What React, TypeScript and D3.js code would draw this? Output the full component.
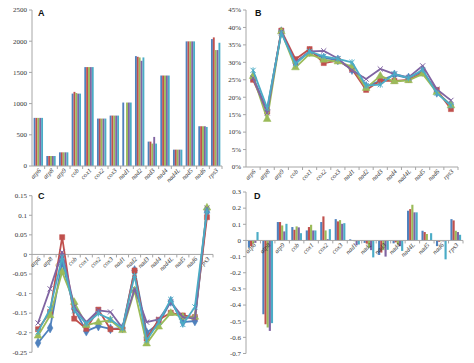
import React from 'react';
import * as d3 from 'd3';

const genes = ['atp6','atp8','atp9','cob','cox1','cox2','cox3','nad1','nad2','nad3','nad4','nad4L','nad5','nad6','rps3'];
const colors = ['#4F81BD','#C0504D','#9BBB59','#8064A2','#4BACC6'];

// Panel A (lengths)
const aBlue   = [771,160,219,1160,1585,760,808,1017,1761,391,1450,262,1997,637,2034];
const aRed    = [771,160,219,1188,1585,760,808,0,1750,391,1450,262,1997,637,2061];
const aGreen  = [771,160,219,1170,1585,760,808,1017,1740,359,1450,262,1997,637,1858];
const aPurple = [771,160,219,1160,1585,760,808,1017,1686,466,1450,262,1997,637,1858];
const aCyan   = [771,160,219,1160,1585,760,808,1017,1740,359,1450,262,1997,626,1975];
const aTicks = [0,500,1000,1500,2000,2500];

// Panel B (percent)
const bBlue   = [25.8,16.4,38.8,29.8,33.1,31.2,30.7,27.9,23.1,24.7,26.4,25.5,27.4,21.4,17.8];
const bRed    = [25.0,15.9,39.1,30.9,33.8,29.8,30.5,28.1,22.1,24.7,24.7,25.0,26.9,22.1,16.6];
const bGreen  = [26.0,13.7,38.8,28.5,32.4,30.7,30.2,28.8,22.6,26.1,24.5,24.8,26.7,21.4,17.6];
const bPurple = [25.5,15.5,38.8,30.0,33.1,33.3,31.1,27.7,25.2,28.1,26.6,25.7,29.0,22.3,19.1];
const bCyan   = [27.7,16.9,38.4,29.6,33.1,31.7,31.0,30.0,23.3,23.6,26.7,25.5,27.9,21.2,17.6];
const bTicks = [0,5,10,15,20,25,30,35,40,45];

// Panel C
const cBlue   = [-0.226,-0.188,-0.02,-0.139,-0.196,-0.183,-0.19,-0.188,-0.041,-0.2,-0.177,-0.12,-0.173,-0.17,0.108];
const cRed    = [-0.191,-0.147,0.044,-0.164,-0.19,-0.141,-0.191,-0.191,-0.041,-0.215,-0.167,-0.149,-0.156,-0.16,0.095];
const cGreen  = [-0.208,-0.156,-0.045,-0.122,-0.181,-0.173,-0.168,-0.194,-0.092,-0.228,-0.185,-0.15,-0.16,-0.16,0.119];
const cPurple = [-0.175,-0.088,0.006,-0.134,-0.173,-0.143,-0.147,-0.188,-0.088,-0.173,-0.166,-0.122,-0.16,-0.164,0.118];
const cCyan   = [-0.198,-0.139,-0.007,-0.143,-0.177,-0.151,-0.166,-0.188,-0.054,-0.219,-0.173,-0.115,-0.179,-0.134,0.112];
const cTicks = [-0.25,-0.2,-0.15,-0.1,-0.05,0,0.05,0.1,0.15];

// Panel D
const dBlue   = [-0.045,-0.457,0.114,0.083,0.062,0.114,0.132,0.007,-0.015,-0.09,-0.018,0.184,0.06,-0.035,0.132];
const dRed    = [-0.035,-0.519,0.114,0.066,0.083,0.149,0.118,0,-0.02,-0.075,-0.012,0.194,0.052,-0.008,0.124];
const dGreen  = [-0.02,-0.539,0.093,0.087,0.097,0.062,0.126,-0.005,-0.045,-0.06,-0.025,0.221,0.04,-0.005,0.06];
const dPurple = [-0.015,-0.56,0.056,0.081,0.062,0.008,0.103,-0.03,-0.06,-0.1,-0.035,0.174,0.003,-0.006,0.052];
const dCyan   = [0.052,-0.512,0.103,0.045,0.062,0.07,0.107,-0.025,-0.105,-0.058,-0.065,0.174,0.045,-0.117,0.035];
const dTicks = [-0.7,-0.6,-0.5,-0.4,-0.3,-0.2,-0.1,0,0.1,0.2,0.3];

const axisColor = '#a6a6a6';
const tickFont = 'Liberation Serif, Times New Roman, serif';

const symTimes = {
  draw(ctx: any, size: number) {
    const r = Math.sqrt(size) / 2;
    ctx.moveTo(-r, -r); ctx.lineTo(r, r);
    ctx.moveTo(r, -r); ctx.lineTo(-r, r);
  }
};
const symStar = {
  draw(ctx: any, size: number) {
    const r = Math.sqrt(size) / 2;
    ctx.moveTo(-r, -r); ctx.lineTo(r, r);
    ctx.moveTo(r, -r); ctx.lineTo(-r, r);
    ctx.moveTo(0, -r * 1.2); ctx.lineTo(0, r * 1.2);
  }
};
const markerTypes: any[] = [d3.symbolDiamond, d3.symbolSquare, d3.symbolTriangle, symTimes, symStar];
const markerSizes = [28, 26, 26, 26, 26];
const markerFilled = [true, true, true, false, false];

type PanelProps = {
  x0: number; x1: number; yTop: number; yBot: number;
  domain: [number, number]; ticks: number[]; fmt: (v: number) => string;
  series: number[][]; label: string; labelPos: [number, number];
  kind: 'bar' | 'line'; baseline: number;
};

function Panel(p: PanelProps) {
  const x = d3.scaleBand<string>().domain(genes).range([p.x0, p.x1]).paddingInner(0.26).paddingOuter(0.13);
  const xc = (g: string) => (x(g) as number) + x.bandwidth() / 2;
  const y = d3.scaleLinear().domain(p.domain).range([p.yBot, p.yTop]);
  const axisY = y(p.baseline);
  const inner = d3.scaleBand<number>().domain(d3.range(p.series.length)).range([0, x.bandwidth()]);
  const line = d3.line<number>().x((_, i) => xc(genes[i])).y(v => y(v));
  const step = x.step();
  return (
    <g>
      {p.kind === 'bar' && p.series.map((s, si) => (
        <g key={si}>
          {s.map((v, i) => v === 0 ? null : (
            <rect key={i} x={(x(genes[i]) as number) + (inner(si) as number)} width={inner.bandwidth()}
              y={Math.min(y(v), axisY)} height={Math.abs(y(v) - axisY)} fill={colors[si]} />
          ))}
        </g>
      ))}
      {/* y axis */}
      <line x1={p.x0} x2={p.x0} y1={p.yTop} y2={p.yBot} stroke={axisColor} strokeWidth={1} />
      {p.ticks.map((t, i) => (
        <g key={i}>
          <line x1={p.x0 - 3} x2={p.x0} y1={y(t)} y2={y(t)} stroke={axisColor} />
          <text x={p.x0 - 5} y={y(t)} dy="0.33em" textAnchor="end" fontSize={7} fontFamily={tickFont} fill="#333">{p.fmt(t)}</text>
        </g>
      ))}
      {/* x axis */}
      <line x1={p.x0} x2={p.x1} y1={axisY} y2={axisY} stroke={axisColor} strokeWidth={1} />
      {genes.map((g, i) => (
        <line key={'t' + i} x1={p.x0 + step * (i + 1)} x2={p.x0 + step * (i + 1)} y1={axisY} y2={axisY + 3} stroke={axisColor} />
      ))}
      {genes.map((g, i) => (
        <text key={'l' + i} transform={`translate(${xc(g) + 3},${axisY + 5}) rotate(-45)`} textAnchor="end"
          fontSize={6.5} fontStyle="italic" fontFamily={tickFont} fill="#333">{g}</text>
      ))}
      {p.kind === 'line' && p.series.map((s, si) => (
        <g key={si}>
          <path d={line(s) || ''} fill="none" stroke={colors[si]} strokeWidth={1.8} strokeLinejoin="round" />
          {s.map((v, i) => (
            <path key={i} transform={`translate(${xc(genes[i])},${y(v)})`}
              d={d3.symbol().type(markerTypes[si]).size(markerSizes[si])() || ''}
              fill={markerFilled[si] ? colors[si] : 'none'} stroke={colors[si]} strokeWidth={markerFilled[si] ? 0.5 : 1} />
          ))}
        </g>
      ))}
      <text x={p.labelPos[0]} y={p.labelPos[1]} fontSize={9} fontWeight="bold" fontFamily="Liberation Sans, Arial, sans-serif" fill="#111">{p.label}</text>
    </g>
  );
}

export default function App() {
  return (
    <svg width={474} height={363} style={{ position: 'absolute', left: 0, top: 0, background: '#fff' }}>
      <rect width={474} height={363} fill="#fff" />
      <Panel x0={32} x1={222} yTop={10} yBot={166} domain={[0, 2500]} ticks={aTicks} fmt={v => String(v)}
        series={[aBlue, aRed, aGreen, aPurple, aCyan]} label="A" labelPos={[38, 16]} kind="bar" baseline={0} />
      <Panel x0={246} x1={458} yTop={10} yBot={167} domain={[0, 45]} ticks={bTicks} fmt={v => v + '%'}
        series={[bBlue, bRed, bGreen, bPurple, bCyan]} label="B" labelPos={[255, 16]} kind="line" baseline={0} />
      <Panel x0={32} x1={213} yTop={195.7} yBot={352.3} domain={[-0.25, 0.15]} ticks={cTicks} fmt={v => String(+v.toFixed(2))}
        series={[cBlue, cRed, cGreen, cPurple, cCyan]} label="C" labelPos={[38, 199]} kind="line" baseline={0} />
      <Panel x0={246} x1={463} yTop={192} yBot={353.5} domain={[-0.7, 0.3]} ticks={dTicks} fmt={v => String(+v.toFixed(1))}
        series={[dBlue, dRed, dGreen, dPurple, dCyan]} label="D" labelPos={[254, 199]} kind="bar" baseline={0} />
    </svg>
  );
}
